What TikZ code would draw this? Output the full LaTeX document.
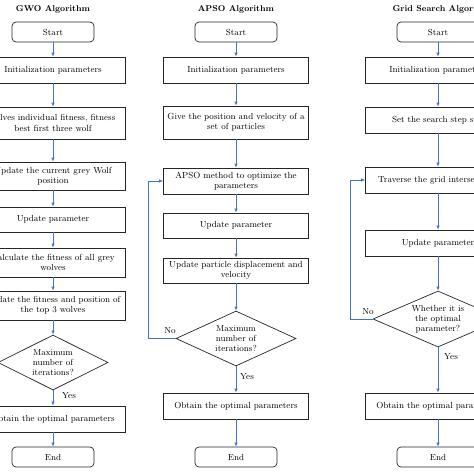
\documentclass[tikz,border=0pt]{standalone}
\usepackage{tikz}
\usepackage{amsmath}
\usetikzlibrary{shapes.geometric,arrows.meta}
\definecolor{flowblue}{RGB}{68,114,196}

\begin{document}
\begin{tikzpicture}[x=1pt,y=-1pt,
  box/.style={shape=rectangle,draw=black!85,line width=0.7pt,minimum width=145pt,minimum height=26pt,align=center,inner sep=2pt,font=\fontsize{8.8}{10.2}\selectfont},
  tall/.style={minimum height=32pt},
  term/.style={box,rounded corners=4pt,minimum width=82pt,minimum height=20pt},
  cond/.style={shape=diamond,draw=black!85,line width=0.7pt,aspect=2,inner sep=0pt,align=center,font=\fontsize{8.8}{10.2}\selectfont},
  flow/.style={draw=flowblue,line width=0.7pt,-{Latex[length=4pt,width=3.5pt]}},
  lbl/.style={font=\fontsize{8.8}{10.2}\selectfont,inner sep=1pt},
  title/.style={font=\bfseries\fontsize{8.5}{10}\selectfont}]
\useasboundingbox (0,0) rectangle (474,474);
\clip (0,0) rectangle (474,474);

\node[title] (gtitle) at (53,9) {GWO Algorithm};
\node[term] (g1) at (53,32) {Start};
\node[box] (g2) at (53,70) {Initialization parameters};
\node[box,tall] (g3) at (53,123) {Solves individual fitness, fitness\\best first three wolf};
\node[box,minimum height=28pt] (g4) at (53,176) {Update the current grey Wolf\\position};
\node[box,minimum height=25pt] (g5) at (53,219.5) {Update parameter};
\node[box,minimum height=29pt] (g6) at (53,262.5) {Calculate the fitness of all grey\\wolves};
\node[box,minimum height=29pt] (g7) at (53,305.5) {Update the fitness and position of\\the top 3 wolves};
\node[cond,minimum width=110pt,minimum height=55pt] (g8) at (53,362.5) {Maximum\\number of\\iterations?};
\node[box] (g9) at (53,419) {Obtain the optimal parameters};
\node[term] (g10) at (53,457) {End};
\node[lbl] (gyes) at (69,396) {Yes};

\node[title] (atitle) at (236,9) {APSO Algorithm};
\node[term] (a1) at (236,32) {Start};
\node[box] (a2) at (236,70) {Initialization parameters};
\node[box,minimum height=33pt] (a3) at (236,122.5) {Give the position and velocity of a\\set of particles};
\node[box] (a4) at (236,181) {APSO method to optimize the\\parameters};
\node[box,minimum height=25pt] (a5) at (236,225.5) {Update parameter};
\node[box,minimum height=25pt] (a6) at (236,270.5) {Update particle displacement and\\velocity};
\node[cond,minimum width=120pt,minimum height=55pt] (a7) at (236,338.5) {Maximum\\number of\\iterations?};
\node[box] (a8) at (236,406) {Obtain the optimal parameters};
\node[term] (a9) at (236,457) {End};
\coordinate (aback) at (148,338.5);
\node[lbl] (ano) at (170,331) {No};
\node[lbl] (ayes) at (247,377) {Yes};

\node[title,anchor=west] (stitle) at (389,9) {Grid Search Algorithm};
\node[term] (s1) at (438,32) {Start};
\node[box] (s2) at (438,70) {Initialization parameters};
\node[box] (s3) at (438,120) {Set the search step size};
\node[box] (s4) at (438,180) {Traverse the grid intersections};
\node[box] (s5) at (438,243) {Update parameter};
\node[cond,minimum width=130pt,minimum height=56pt] (s6) at (438,319) {Whether it is\\the optimal\\parameter?};
\node[box] (s7) at (438,406) {Obtain the optimal parameters};
\node[term] (s8) at (438,457) {End};
\coordinate (sback) at (350,319);
\node[lbl] (sno) at (368,312) {No};
\node[lbl] (syes) at (451,357) {Yes};

\path (g1) edge[flow] (g2);
\path (g2) edge[flow] (g3);
\path (g3) edge[flow] (g4);
\path (g4) edge[flow] (g5);
\path (g5) edge[flow] (g6);
\path (g6) edge[flow] (g7);
\path (g7) edge[flow] (g8);
\path (g8) edge[flow] (g9);
\path (g9) edge[flow] (g10);

\path (a1) edge[flow] (a2);
\path (a2) edge[flow] (a3);
\path (a3) edge[flow] (a4);
\path (a4) edge[flow] (a5);
\path (a5) edge[flow] (a6);
\path (a6) edge[flow] (a7);
\path (a7) edge[flow] (a8);
\path (a8) edge[flow] (a9);
\draw[flow] (a7.west) -- (aback) |- (a4.west);

\path (s1) edge[flow] (s2);
\path (s2) edge[flow] (s3);
\path (s3) edge[flow] (s4);
\path (s4) edge[flow] (s5);
\path (s5) edge[flow] (s6);
\path (s6) edge[flow] (s7);
\path (s7) edge[flow] (s8);
\draw[flow] (s6.west) -- (sback) |- (s4.west);
\end{tikzpicture}
\end{document}
